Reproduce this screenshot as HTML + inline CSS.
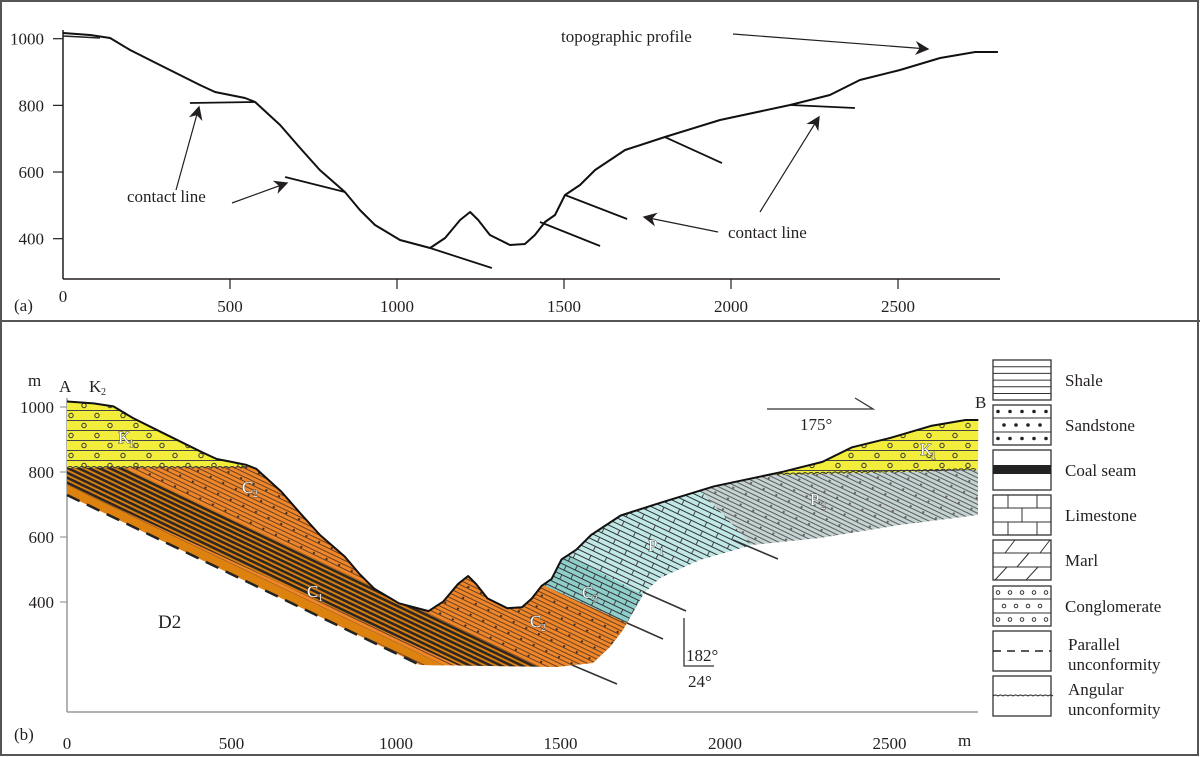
<!DOCTYPE html>
<html><head><meta charset="utf-8">
<style>
html,body{margin:0;padding:0;background:#fff;overflow:hidden;width:1200px;height:757px;}
svg{display:block;font-family:"Liberation Serif",serif;}
.lbl{fill:#231f20;font-size:17px;}
.wl{fill:#fff;stroke:#333;stroke-width:0.8px;paint-order:stroke;font-size:17px;}
</style></head>
<body>
<svg id="fig" width="1200" height="757" viewBox="0 0 1200 757" xmlns="http://www.w3.org/2000/svg">
<defs>
  <marker id="ah" viewBox="0 0 10 10" refX="9" refY="5" markerWidth="22" markerHeight="14" markerUnits="userSpaceOnUse" orient="auto">
    <path d="M0,0 L10,5 L0,10 L3,5 Z" fill="#231f20"/>
  </marker>
  <pattern id="congl" width="26" height="20" patternUnits="userSpaceOnUse">
    <rect width="26" height="20" fill="#f3ee3c"/>
    <line x1="0" y1="0.5" x2="26" y2="0.5" stroke="#444" stroke-width="1"/>
    <line x1="0" y1="10.5" x2="26" y2="10.5" stroke="#444" stroke-width="1"/>
    <circle cx="6" cy="5.5" r="2.2" fill="none" stroke="#333" stroke-width="1"/>
    <circle cx="19" cy="15.5" r="2.2" fill="none" stroke="#333" stroke-width="1"/>
  </pattern>
  <pattern id="orange" width="20" height="4" patternUnits="userSpaceOnUse" patternTransform="rotate(25.6)">
    <rect width="20" height="4" fill="#f0862a"/>
    <line x1="0" y1="0.5" x2="20" y2="0.5" stroke="#3a2a20" stroke-width="0.8"/>
  </pattern>
  <pattern id="dots" width="14" height="12" patternUnits="userSpaceOnUse" patternTransform="rotate(25.6)">
    <circle cx="4" cy="3" r="1.1" fill="#3a2a20"/>
  </pattern>
  <pattern id="coal" width="30" height="4.5" patternUnits="userSpaceOnUse" patternTransform="rotate(25.6)">
    <rect width="30" height="4.5" fill="#d9800f"/>
    <rect y="0" width="30" height="2.6" fill="#2e2622"/>
  </pattern>
  <pattern id="brick" width="30" height="10" patternUnits="userSpaceOnUse" patternTransform="rotate(25.6)">
    <rect width="30" height="10" fill="#bfe8e6"/>
    <line x1="0" y1="0.5" x2="30" y2="0.5" stroke="#333" stroke-width="0.9"/>
    <line x1="0" y1="5.5" x2="30" y2="5.5" stroke="#333" stroke-width="0.9"/>
    <line x1="8" y1="0" x2="8" y2="5" stroke="#333" stroke-width="0.9"/>
    <line x1="23" y1="5" x2="23" y2="10" stroke="#333" stroke-width="0.9"/>
  </pattern>
  <pattern id="brick2" width="20" height="10" patternUnits="userSpaceOnUse" patternTransform="rotate(25.6)">
    <rect width="20" height="10" fill="#8fcfcb"/>
    <line x1="0" y1="0.5" x2="20" y2="0.5" stroke="#333" stroke-width="0.9"/>
    <line x1="0" y1="5.5" x2="20" y2="5.5" stroke="#333" stroke-width="0.9"/>
    <line x1="5" y1="0" x2="5" y2="5" stroke="#333" stroke-width="0.9"/>
    <line x1="15" y1="5" x2="15" y2="10" stroke="#333" stroke-width="0.9"/>
  </pattern>
  <pattern id="gray" width="20" height="4" patternUnits="userSpaceOnUse" patternTransform="rotate(25.6)">
    <rect width="20" height="4" fill="#c5d3d2"/>
    <line x1="0" y1="0.5" x2="20" y2="0.5" stroke="#333" stroke-width="0.8"/>
  </pattern>
  <clipPath id="orClip"><path id="orClipPath" d=""/></clipPath>
</defs>

<rect x="1" y="1" width="1197" height="754" fill="none" stroke="#555" stroke-width="2"/>
<line x1="0" y1="321" x2="1200" y2="321" stroke="#555" stroke-width="2"/>

<g id="panelA"></g>
<g id="panelB"></g>
<g id="legend"></g>
</svg>

<script>
// ---- data (distance m, elevation m) ----
const profileDist = [0,81,141,201,290,410,455,500,545,575,650,710,769,844,889,934,1009,1099,1144,1189,1219,1243,1278,1338,1383,1413,1443,1473,1503,1548,1593,1683,1802,1967,2177,2296,2386,2506,2626,2731,2799];
const profileElev = [1017,1011,1002,966,921,861,840,831,822,810,741,672,606,540,486,441,396,372,402,456,480,456,411,381,384,411,450,471,531,561,606,666,705,756,801,831,876,906,942,960,960];
const contactStartDist = [380,665,1099,1428,1503,1802,2177];
const contactStartElev = [807,585,372,450,531,705,801];
const contactEndDist = [575,844,1284,1608,1689,1973,2371];
const contactEndElev = [810,540,312,378,459,627,792];
const xTicksA = [0,500,1000,1500,2000,2500];
const yTicksA = [400,600,800,1000];
const xTicksB = [0,500,1000,1500,2000,2500];
const yTicksB = [400,600,800,1000];
const legendLabels = ["Shale","Sandstone","Coal seam","Limestone","Marl","Conglomerate","Parallel|unconformity","Angular|unconformity"];

const NS = "http://www.w3.org/2000/svg";
function mk(parent, tag, attrs, text){
  const e = document.createElementNS(NS, tag);
  for (const k in attrs) e.setAttribute(k, attrs[k]);
  if (text !== undefined) e.textContent = text;
  parent.appendChild(e);
  return e;
}
const xA = m => 63 + m*0.3340;
const yA = e => 38.7 + (1000-e)*0.3333;
const xB = m => 67 + m*0.329;
const yB = e => 407 + (1000-e)*0.325;

function profileSlice(m0, m1){
  const pts=[];
  const interp = m => { for(let i=1;i<profileDist.length;i++){ if(m<=profileDist[i]){const t=(m-profileDist[i-1])/(profileDist[i]-profileDist[i-1]); return profileElev[i-1]+t*(profileElev[i]-profileElev[i-1]);} } return profileElev[profileElev.length-1]; };
  pts.push([m0, interp(m0)]);
  for(let i=0;i<profileDist.length;i++) if(profileDist[i]>m0 && profileDist[i]<m1) pts.push([profileDist[i],profileElev[i]]);
  pts.push([m1, interp(m1)]);
  return pts;
}

// ================= Panel A =================
const A = document.getElementById('panelA');
let el;
el = mk(A,'line',{x1:63,y1:30,x2:63,y2:279,stroke:'#231f20','stroke-width':1.5});
 
el = mk(A,'line',{x1:63,y1:279,x2:1000,y2:279,stroke:'#231f20','stroke-width':1.5});
 
yTicksA.forEach(v=>{
  mk(A,'line',{x1:53,y1:yA(v),x2:63,y2:yA(v),stroke:'#231f20','stroke-width':1.2});
  const t = mk(A,'text',{x:44,y:yA(v)+6,'text-anchor':'end',class:'lbl'},String(v));
   
});
xTicksA.forEach(v=>{
  if(v>0) mk(A,'line',{x1:xA(v),y1:279,x2:xA(v),y2:289,stroke:'#231f20','stroke-width':1.2});
  const t = mk(A,'text',{x:xA(v),y:v===0?302:312,'text-anchor':'middle',class:'lbl'},String(v));
   
});
el = mk(A,'text',{x:14,y:311,class:'lbl'},'(a)');
 
mk(A,'line',{x1:63,y1:36,x2:100,y2:38,stroke:'#231f20','stroke-width':1.5});
el = mk(A,'path',{d:profileSlice(0,2799).map((p,i)=>(i?'L':'M')+xA(p[0]).toFixed(1)+','+yA(p[1]).toFixed(1)).join(' '),fill:'none',stroke:'#111','stroke-width':2,'stroke-linejoin':'round'});
 
contactStartDist.forEach((d,i)=>{
  const c = mk(A,'line',{x1:xA(d),y1:yA(contactStartElev[i]),x2:xA(contactEndDist[i]),y2:yA(contactEndElev[i]),stroke:'#111','stroke-width':1.8});
   
});
el = mk(A,'text',{x:561,y:42,class:'lbl'},'topographic profile');
 
mk(A,'line',{x1:733,y1:34,x2:928,y2:49,stroke:'#231f20','stroke-width':1.2,'marker-end':'url(#ah)'});
el = mk(A,'text',{x:127,y:202,class:'lbl'},'contact line');
 
mk(A,'line',{x1:176,y1:190,x2:199,y2:107,stroke:'#231f20','stroke-width':1.2,'marker-end':'url(#ah)'});
mk(A,'line',{x1:232,y1:203,x2:287,y2:183,stroke:'#231f20','stroke-width':1.2,'marker-end':'url(#ah)'});
el = mk(A,'text',{x:728,y:238,class:'lbl'},'contact line');
 
mk(A,'line',{x1:718,y1:232,x2:644,y2:217,stroke:'#231f20','stroke-width':1.2,'marker-end':'url(#ah)'});
mk(A,'line',{x1:760,y1:212,x2:819,y2:117,stroke:'#231f20','stroke-width':1.2,'marker-end':'url(#ah)'});

// ================= Panel B =================
const B = document.getElementById('panelB');
const toPath = pts => pts.map((p,i)=>(i?'L':'M')+xB(p[0]).toFixed(1)+','+yB(p[1]).toFixed(1)).join(' ');
const mB = px => (px-67)/0.329;
el = mk(B,'line',{x1:67,y1:398,x2:67,y2:712,stroke:'#999','stroke-width':1.5});
 
el = mk(B,'line',{x1:67,y1:712,x2:978,y2:712,stroke:'#999','stroke-width':1.5});
 
yTicksB.forEach(v=>{
  mk(B,'line',{x1:60,y1:yB(v),x2:67,y2:yB(v),stroke:'#999','stroke-width':1.2});
  const t = mk(B,'text',{x:54,y:yB(v)+6,'text-anchor':'end',class:'lbl'},String(v));
   
});
xTicksB.forEach(v=>{
  const t = mk(B,'text',{x:xB(v),y:749,'text-anchor':'middle',class:'lbl'},String(v));
   
});
mk(B,'text',{x:958,y:746,class:'lbl'},'m');
mk(B,'text',{x:28,y:386,class:'lbl'},'m');
el = mk(B,'text',{x:14,y:740,class:'lbl'},'(b)');
 

const yl = profileSlice(0, mB(246));
el = mk(B,'path',{d:toPath(yl)+' L246,467 L67,468 Z',fill:'url(#congl)'});
 
const orTop = profileSlice(mB(246), mB(543));
const orangeD = toPath(orTop)+' L627,623 L623,630 L610,647 L593,663 L557,667 L420,665 L67,495 L67,468 L246,467 Z';
document.getElementById('orClipPath').setAttribute('d', orangeD);
el = mk(B,'path',{d:orangeD,fill:'url(#orange)'});
 
mk(B,'path',{d:orangeD,fill:'url(#dots)'});
el = mk(B,'path',{d:'M67,440 L620,706 L620,740 L67,485 Z',fill:'url(#coal)','clip-path':'url(#orClip)'});
 
mk(B,'path',{d:'M67,485 L600,740 L600,745 L67,500 Z',fill:'#dd820e','clip-path':'url(#orClip)'});
const blTop = profileSlice(mB(543), mB(700));
el = mk(B,'path',{d:toPath(blTop)+' L752,545 L700,560 L660,578 L640,597 L627,623 Z',fill:'url(#brick)'});
 
const c3Top = profileSlice(mB(543), mB(568));
el = mk(B,'path',{d:toPath(c3Top)+' L643,595 L627,623 Z',fill:'url(#brick2)'});
 
const grTop = profileSlice(mB(700), mB(772));
const grD = toPath(grTop)+' L978,470 L978,515 L900,525 L820,538 L752,545 Z';
el = mk(B,'path',{d:grD,fill:'url(#gray)'});
 
mk(B,'path',{d:grD,fill:'url(#dots)',opacity:0.7});
const yr = profileSlice(mB(772), 2770);
el = mk(B,'path',{d:toPath(yr)+' L978,470 L772,475 Z',fill:'url(#congl)'});
 
let wv='M67,468'; for(let x=67;x<246;x+=6) wv+=' q3,-3 6,0';
mk(B,'path',{d:wv,fill:'none',stroke:'#333','stroke-width':1});
wv='M772,475'; for(let x=772;x<976;x+=6) wv+=' q3,-3 6,-0.15';
mk(B,'path',{d:wv,fill:'none',stroke:'#333','stroke-width':1});
el = mk(B,'line',{x1:67,y1:495,x2:420,y2:665,stroke:'#222','stroke-width':2.5,'stroke-dasharray':'14,8'});
 
el = mk(B,'path',{d:toPath(profileSlice(0,2770)),fill:'none',stroke:'#111','stroke-width':2,'stroke-linejoin':'round'});
 
[[733,540,778,559],[643,592,686,611],[627,623,663,639],[572,665,617,684]].forEach(s=>{
  mk(B,'line',{x1:s[0],y1:s[1],x2:s[2],y2:s[3],stroke:'#333','stroke-width':1.6});
});
mk(B,'polyline',{points:'767,409 873,409 855,398',fill:'none',stroke:'#333','stroke-width':1.3});
mk(B,'text',{x:800,y:430,class:'lbl'},'175°');
mk(B,'polyline',{points:'684,618 684,666 714,666',fill:'none',stroke:'#333','stroke-width':1.3});
mk(B,'text',{x:686,y:661,class:'lbl'},'182°');
mk(B,'text',{x:688,y:687,class:'lbl'},'24°');
mk(B,'text',{x:59,y:392,class:'lbl'},'A');
mk(B,'text',{x:89,y:392,class:'lbl'},'K');
mk(B,'text',{x:101,y:395,class:'lbl',style:'font-size:10px'},'2');
mk(B,'text',{x:975,y:408,class:'lbl'},'B');
mk(B,'text',{x:158,y:628,class:'lbl',style:'font-size:19px'},'D2');
[['K',118,443,'1'],['C',242,493,'2'],['C',307,597,'1'],['C',530,627,'2'],['C',582,598,'3'],['P',648,551,'1'],['P',810,505,'2'],['K',920,455,'1']].forEach(l=>{
  const t = mk(B,'text',{x:l[1],y:l[2],class:'wl'},l[0]);
   
  mk(B,'text',{x:l[1]+11,y:l[2]+4,class:'wl',style:'font-size:10px'},l[3]);
});

// ================= Legend =================
const L = document.getElementById('legend');
const boxY = [360,405,450,495,540,586,631,676];
legendLabels.forEach((lab,i)=>{
  const y=boxY[i], x=993, w=58, h=40;
  const g = mk(L,'g',{});
   
  mk(g,'rect',{x:x,y:y,width:w,height:h,fill:'#fff',stroke:'#333','stroke-width':1.3});
  const ln=(x1,y1,x2,y2,sw)=>mk(g,'line',{x1,y1,x2,y2,stroke:'#333','stroke-width':sw||1});
  if(i===0){ for(let k=1;k<6;k++) ln(x,y+k*6.7,x+w,y+k*6.7); }
  if(i===1||i===5){ ln(x,y+13,x+w,y+13); ln(x,y+27,x+w,y+27);
    [[6.5,5],[20,4],[33.5,5]].forEach((r)=>{ const n=r[1]; for(let k=0;k<n;k++){ const cx=x+(n===5?5+k*12:11+k*12);
      if(i===1) mk(g,'circle',{cx,cy:y+r[0],r:1.8,fill:'#222'}); else mk(g,'circle',{cx,cy:y+r[0],r:1.8,fill:'none',stroke:'#222','stroke-width':0.9}); }});
  }
  if(i===2){ mk(g,'rect',{x:x,y:y+15,width:w,height:9,fill:'#222'}); }
  if(i===3){ ln(x,y+13,x+w,y+13); ln(x,y+27,x+w,y+27); ln(x+15,y,x+15,y+13); ln(x+44,y,x+44,y+13); ln(x+29,y+13,x+29,y+27); ln(x+15,y+27,x+15,y+40); ln(x+44,y+27,x+44,y+40); }
  if(i===4){ ln(x,y+13,x+w,y+13); ln(x,y+27,x+w,y+27); ln(x+12,y+13,x+22,y); ln(x+47,y+13,x+57,y); ln(x+24,y+27,x+36,y+13); ln(x+2,y+40,x+14,y+27); ln(x+33,y+40,x+45,y+27); }
  if(i===6){ mk(g,'line',{x1:x,y1:y+20,x2:x+w,y2:y+20,stroke:'#222','stroke-width':1.5,'stroke-dasharray':'8,6'}); }
  if(i===7){ let d='M'+x+','+(y+20); for(let k=0;k<w-2;k+=5) d+=' q2.5,-2 5,0'; mk(g,'path',{d,fill:'none',stroke:'#222','stroke-width':1}); }
  const parts = lab.split('|');
  if(parts.length===1) mk(g,'text',{x:1065,y:y+26,class:'lbl'},lab);
  else { mk(g,'text',{x:1068,y:y+19,class:'lbl'},parts[0]); mk(g,'text',{x:1068,y:y+39,class:'lbl'},parts[1]); }
});
</script>
</body></html>
